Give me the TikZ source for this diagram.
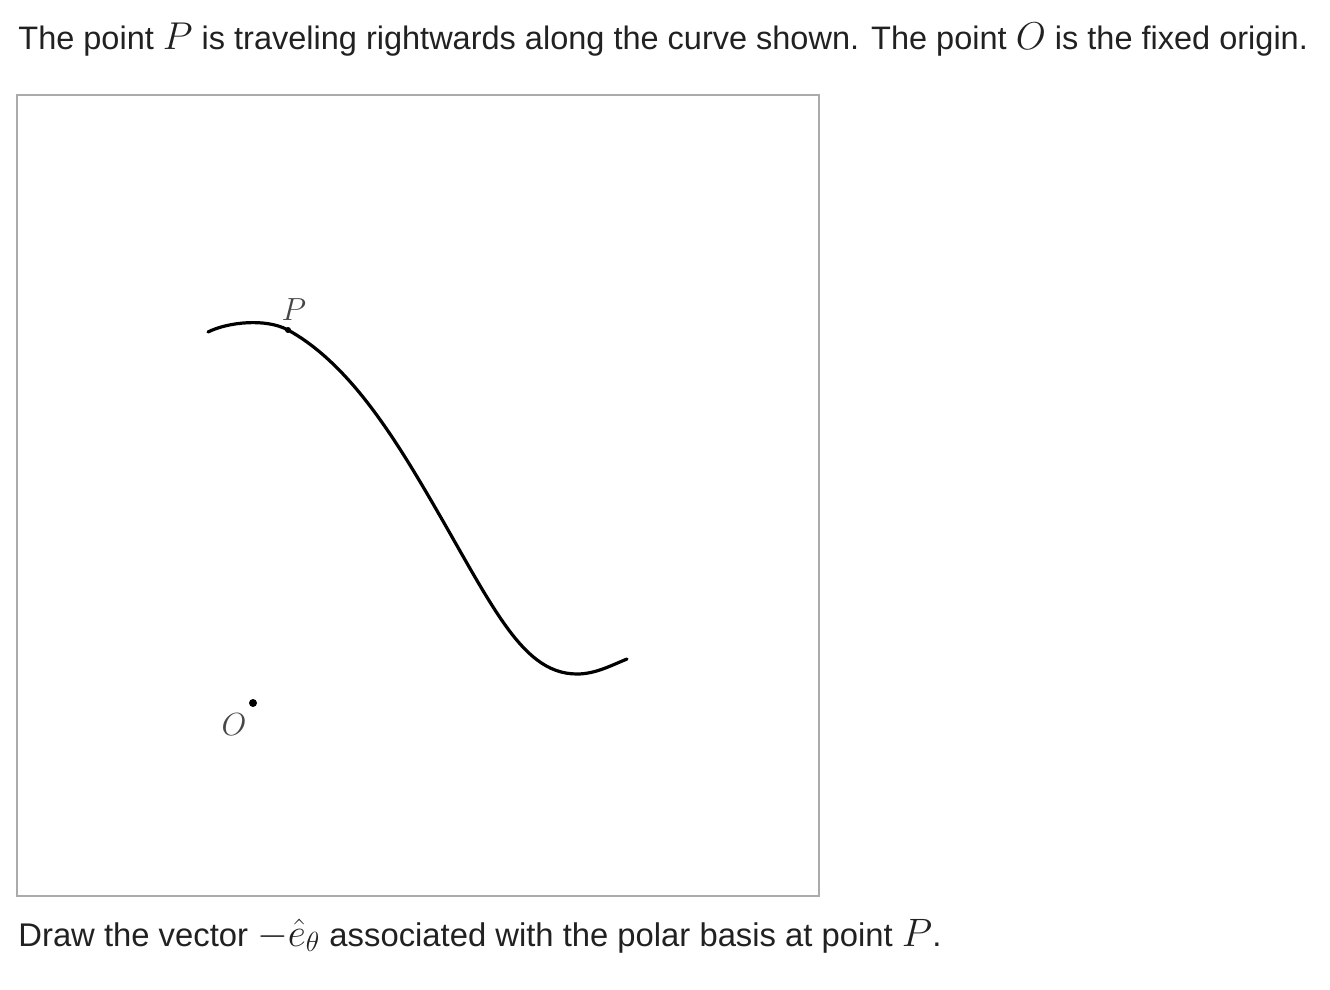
\documentclass[tikz,border=0pt]{standalone}
\usepackage{fix-cm}
\usepackage{fontspec}
\setmainfont{Liberation Sans}
\newcommand\mathbig[1]{{\fontsize{19.4}{20}\selectfont$#1$}}
\newcommand\mathbigb[1]{{\fontsize{19.8}{20}\selectfont$#1$}}
\begin{document}
\begin{tikzpicture}[x=0.5pt,y=-0.5pt,
  prose/.style={anchor=base west,inner sep=0pt,font=\fontsize{16.25}{19}\selectfont,text=black!87},
  prosebottom/.style={prose,font=\fontsize{16.4}{19}\selectfont},
  ptlabel/.style={inner sep=0pt,text=black!72,font=\fontsize{16}{18}\selectfont},
  frame/.style={draw=black!33,line width=1pt},
  curvestyle/.style={line width=1.6pt,line cap=round}]
\useasboundingbox (0,0) rectangle (1330,990);
\node[prose] (top) at (18,50) {The point \mathbig{P} is traveling rightwards along the curve shown. The point \mathbig{O} is the fixed origin.};
\draw[frame] (17,95) rectangle (819,896);
\coordinate (start) at (208,332);
\coordinate (p) at (288,330);
\coordinate (a) at (413,470);
\coordinate (m) at (577,674);
\coordinate (e) at (627,659);
\draw[curvestyle] (start) .. controls (228,322) and (266,318) .. (p)
  .. controls (340,358.6) and (380,416) .. (a)
  .. controls (488,594) and (517,674) .. (m)
  .. controls (595,674) and (610,666) .. (e);
\fill (p) circle[radius=3];
\node[ptlabel] (plab) at (294,310) {$P$};
\fill (253,703) circle[radius=4];
\node[ptlabel] (olab) at (234,725) {$O$};
\node[prosebottom] (bottom) at (18,946) {Draw the vector \mathbigb{-\hat{e}_\theta} associated with the polar basis at point \mathbigb{P}.};
\end{tikzpicture}
\end{document}
